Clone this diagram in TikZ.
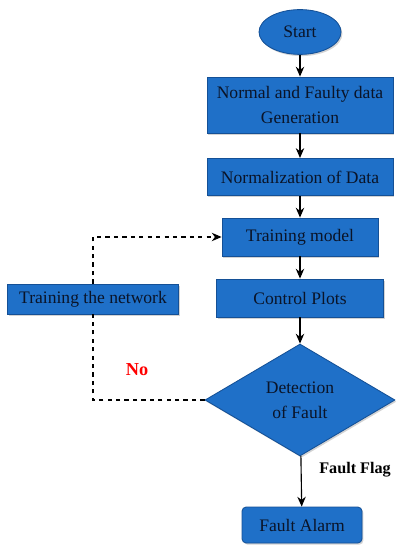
\documentclass[tikz,border=0pt]{standalone}
\usepackage{fontspec}
\setmainfont{Liberation Serif}
\usepackage{tikz}
\usetikzlibrary{shapes.geometric, shadows, arrows.meta}

\definecolor{flowblue}{RGB}{31,112,200}
\definecolor{flowedge}{RGB}{20,80,150}
\definecolor{flowtext}{RGB}{10,20,40}

\begin{document}
\begin{tikzpicture}[>={Stealth[length=7pt,width=6pt]},
		block/.style={rectangle, draw=flowedge, fill=flowblue, line width=0.6pt, text=flowtext,
			drop shadow={opacity=0.35, shadow xshift=1pt, shadow yshift=-1.2pt},
			font=\fontsize{12.5}{18}\selectfont, align=center, inner sep=2pt},
		link/.style={->, thick}]
			\useasboundingbox (0, 0) rectangle (10.025, -13.75);
			
			\node[ellipse, draw=flowedge, fill=flowblue, line width=0.6pt, text=flowtext, font=\fontsize{12.5}{15}\selectfont,
				minimum width=2.05cm, minimum height=1.12cm,
				drop shadow={opacity=0.35, shadow xshift=1pt, shadow yshift=-1.2pt}] (start) at (7.5, -0.8) {Start};
			\node[block, minimum width=4.65cm, minimum height=1.4cm] (gen) at (7.5, -2.625) {Normal and Faulty data\\Generation};
			\node[block, minimum width=4.65cm, minimum height=0.93cm] (norm) at (7.5, -4.425) {Normalization of Data};
			\node[block, minimum width=3.9cm, minimum height=0.95cm] (train) at (7.5, -5.925) {Training model};
			\node[block, minimum width=4.18cm, minimum height=0.95cm] (ctrl) at (7.5, -7.45) {Control Plots};
			\node[block, diamond, minimum width=4.75cm, minimum height=2.8cm, inner sep=0pt] (detect) at (7.5, -10.0) {Detection\\of Fault};
			\node[block, rounded corners=3pt, minimum width=3.0cm, minimum height=0.9cm] (alarm) at (7.55, -13.125) {Fault Alarm};
			\node[block, minimum width=4.28cm, minimum height=0.75cm] (net) at (2.325, -7.475) {Training the network};
			
			\draw[link] (start) -- (gen);
			\draw[link] (gen) -- (norm);
			\draw[link] (norm) -- (train);
			\draw[link] (train) -- (ctrl);
			\draw[link] (ctrl) -- (detect);
			\draw[link] (detect) -- (alarm);
			
			\draw[dashed, thick] (detect.west) -| (net.south);
			\draw[dashed, thick, ->] (net.north) |- (train.west);
			
			\node[font=\bfseries\fontsize{11.5}{14}\selectfont] (flaglabel) at (8.875, -11.75) {Fault Flag};
			\node[text=red, font=\bfseries\fontsize{13}{15}\selectfont] (nolabel) at (3.425, -9.25) {No};
			
		\end{tikzpicture}
\end{document}
